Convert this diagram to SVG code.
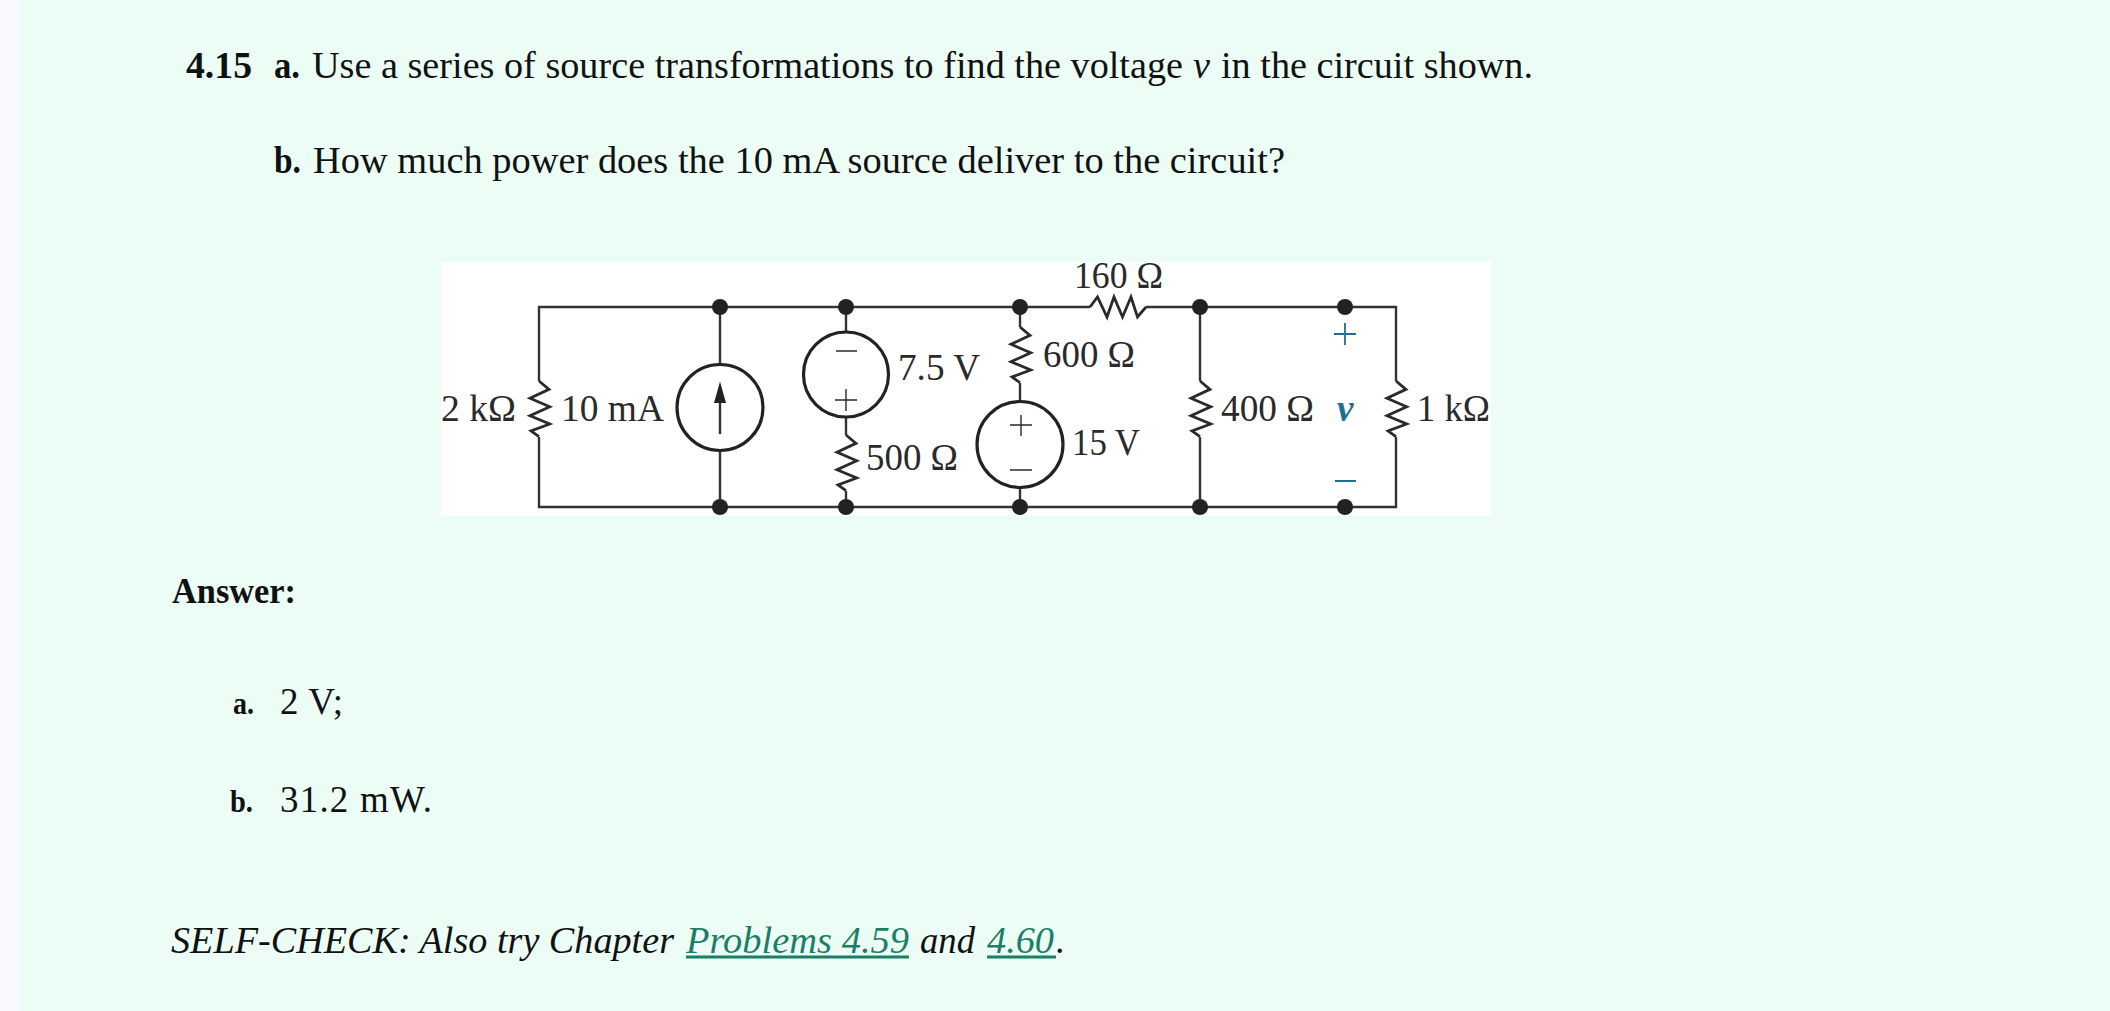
<svg xmlns="http://www.w3.org/2000/svg" width="2110" height="1011" viewBox="0 0 2110 1011">
<style>
text{font-family:"Liberation Serif","Times New Roman",serif;fill:#111}
.t{font-size:38px}
.a{font-size:37px}
.b{font-weight:700}
.i{font-style:italic}
.c{font-size:37px;fill:#2a2a2a}
.w{fill:none;stroke:#333;stroke-width:2.4;stroke-linejoin:miter}
.z{fill:none;stroke:#2a2a2a;stroke-width:2.8;stroke-linejoin:miter}
.s{fill:none;stroke:#222;stroke-width:3.2}
.d{fill:#222}
.p{fill:none;stroke:#2a2a2a;stroke-width:1.4}
.v{fill:none;stroke:#1f6f93;stroke-width:1.8}
.l{fill:#1a7f64}
.u{stroke:#1a7f64;stroke-width:2.8}
</style>
<defs>
<path id="zig" class="z" d="M0 0L10 8.300-9 17.300 10.700 25.700-9 34.700 10.700 43-8 50 0 55.700"/>
</defs>
<rect width="2110" height="1011" fill="#ebfdf4"/>
<rect width="21" height="1011" fill="#f8f9ff"/>
<g id="text-problem">
<text class="t b" x="186" y="78" textLength="66" lengthAdjust="spacingAndGlyphs">4.15</text>
<text class="t b" x="274" y="78" textLength="26" lengthAdjust="spacingAndGlyphs">a.</text>
<text class="t" x="312" y="78" textLength="871" lengthAdjust="spacingAndGlyphs">Use a series of source transformations to find the voltage</text>
<text class="t i" x="1193" y="78" textLength="17" lengthAdjust="spacingAndGlyphs">v</text>
<text class="t" x="1221" y="78" textLength="312" lengthAdjust="spacingAndGlyphs">in the circuit shown.</text>
<text class="t b" x="274" y="173" textLength="27" lengthAdjust="spacingAndGlyphs">b.</text>
<text class="t" x="313" y="173" textLength="972" lengthAdjust="spacingAndGlyphs">How much power does the 10 mA source deliver to the circuit?</text>
</g>
<rect id="figure-bg" x="441" y="262" width="1050" height="254" fill="#fff"/>
<g id="connectors">
<path class="w" d="M539 381V307H1090M1146 307H1396V381M539 437V507H1396V437"/>
<path class="w" d="M720 307V365M720 450V507M846 307V332M846 417V435M846 491V507M1020 307V327M1020 383V402M1020 487V507M1200 307V381M1200 437V507"/>
</g>
<g id="r-2k"><use href="#zig" x="539" y="381"/><text class="c" x="441" y="421" textLength="75" lengthAdjust="spacingAndGlyphs">2 kΩ</text></g>
<g id="i-10mA"><circle class="s" cx="720" cy="407.500" r="43"/><path class="w" d="M720 434V400"/><path class="d" d="M720 381.500l6 21.500h-12z"/><text class="c" x="561" y="421" textLength="103" lengthAdjust="spacingAndGlyphs">10 mA</text></g>
<g id="v-7-5"><circle class="s" cx="846" cy="374.500" r="42.500"/><path class="p" d="M836 351h21M835 400h22M846 389v22"/><text class="c" x="898" y="380" textLength="82" lengthAdjust="spacingAndGlyphs">7.5 V</text></g>
<g id="r-500"><use href="#zig" x="846" y="435"/><text class="c" x="866" y="470" textLength="92" lengthAdjust="spacingAndGlyphs">500 Ω</text></g>
<g id="r-600"><use href="#zig" x="1020" y="327"/><text class="c" x="1043" y="367" textLength="92" lengthAdjust="spacingAndGlyphs">600 Ω</text></g>
<g id="v-15"><circle class="s" cx="1020" cy="444.500" r="43"/><path class="p" d="M1010 425h22M1021 415v21M1010 470h22"/><text class="c" x="1072" y="455" textLength="68" lengthAdjust="spacingAndGlyphs">15 V</text></g>
<g id="r-160"><path class="z" d="M1090 307L1097.500 297 1107 317 1114 297 1122.500 317 1131 297 1137.500 317 1146 307"/><text class="c" x="1074" y="288" textLength="89" lengthAdjust="spacingAndGlyphs">160 Ω</text></g>
<g id="r-400"><use href="#zig" x="1200" y="381"/><text class="c" x="1221" y="421" textLength="93" lengthAdjust="spacingAndGlyphs">400 Ω</text></g>
<g id="r-1k"><use href="#zig" x="1396" y="381"/><text class="c" x="1417" y="421" textLength="73" lengthAdjust="spacingAndGlyphs">1 kΩ</text></g>
<g id="v-label"><path class="v" d="M1334 334h22M1345 323v22M1335 481h21"/><text class="c i b" x="1337" y="421" style="fill:#1f6f93">v</text></g>
<g id="nodes">
<circle class="d" cx="720" cy="307" r="8"/><circle class="d" cx="846" cy="307" r="8"/><circle class="d" cx="1020" cy="307" r="8"/><circle class="d" cx="1200" cy="307" r="8"/><circle class="d" cx="1345" cy="307" r="8"/>
<circle class="d" cx="720" cy="507" r="8"/><circle class="d" cx="846" cy="507" r="8"/><circle class="d" cx="1020" cy="507" r="8"/><circle class="d" cx="1200" cy="507" r="8"/><circle class="d" cx="1345" cy="507" r="8"/>
</g>
<g id="text-answer">
<text class="b" x="172" y="603" style="font-size:35px" textLength="124" lengthAdjust="spacingAndGlyphs">Answer:</text>
<text class="b" x="233" y="714" style="font-size:31px" textLength="21" lengthAdjust="spacingAndGlyphs">a.</text>
<text class="a" x="280" y="714" textLength="63">2 V;</text>
<text class="b" x="230" y="812" style="font-size:31px" textLength="23" lengthAdjust="spacingAndGlyphs">b.</text>
<text class="a" x="280" y="812" textLength="152">31.2 mW.</text>
</g>
<g id="text-self-check">
<text class="a i" x="171" y="953" textLength="503" lengthAdjust="spacingAndGlyphs">SELF-CHECK: Also try Chapter</text>
<text class="a i l" x="686" y="953" textLength="223" lengthAdjust="spacingAndGlyphs">Problems 4.59</text>
<text class="a i" x="920" y="953" textLength="55" lengthAdjust="spacingAndGlyphs">and</text>
<text class="a i l" x="987" y="953" textLength="67" lengthAdjust="spacingAndGlyphs">4.60</text>
<text class="a i" x="1056" y="953">.</text>
<path class="u" d="M686 957H909M987 957H1056"/>
</g>
</svg>
